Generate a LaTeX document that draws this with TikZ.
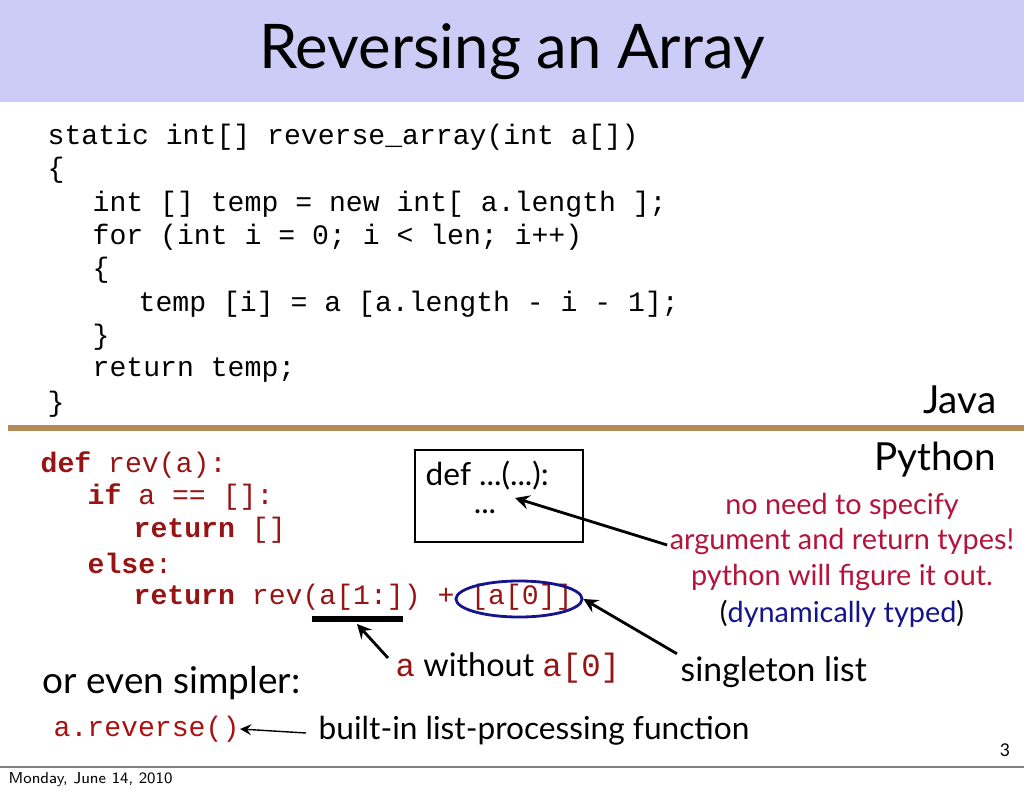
\documentclass[tikz,border=0pt]{standalone}
\usepackage{fontspec}
\setmainfont{Lato}
\setmonofont{Liberation Mono}
\usetikzlibrary{shapes.geometric}
\definecolor{band}{RGB}{204,204,246}
\definecolor{rule}{RGB}{180,140,90}
\definecolor{code}{RGB}{150,20,20}
\definecolor{note}{RGB}{180,20,60}
\definecolor{navy}{RGB}{20,20,140}
\begin{document}
\begin{tikzpicture}[x=0.01cm,y=-0.01cm]
\tikzstyle{java}=[anchor=west,inner sep=0pt,font=\ttfamily\fontsize{8}{10}\selectfont]
\tikzstyle{py}=[anchor=west,inner sep=0pt,text=code,font=\ttfamily\fontsize{8}{10}\selectfont]
\tikzstyle{label}=[inner sep=0pt,font=\fontsize{11}{13}\selectfont]
\tikzstyle{remark}=[inner sep=0pt,text=note,font=\fontsize{8.2}{10}\selectfont]
\tikzstyle{pointer}=[->,>=stealth,thick]
\useasboundingbox (0,0) rectangle (1024,794);
\fill[band] (0,0) rectangle (1024,102);
\node [inner sep=0pt,font=\fontsize{17.5}{20}\selectfont] (title) at (512,52) {Reversing an Array};
% Java version
\node [java] (j1) at (47,137) {static int[] reverse\_array(int a[])};
\node [java] (j2) at (47,170) {\{};
\node [java] (j3) at (92,204) {int [] temp = new int[ a.length ];};
\node [java] (j4) at (92,237) {for (int i = 0; i < len; i++)};
\node [java] (j5) at (92,270) {\{};
\node [java] (j6) at (138,304) {temp [i] = a [a.length - i - 1];};
\node [java] (j7) at (92,337) {\}};
\node [java] (j8) at (92,370) {return temp;};
\node [java] (j9) at (47,404) {\}};
\node [label,anchor=east] (java) at (997,400) {Java};
\draw[rule,line width=1.5pt] (8,428) -- (1024,428);
% Python version
\node [py] (p1) at (40,465) {\textbf{def} rev(a):};
\node [py] (p2) at (87,497) {\textbf{if} a == []:};
\node [py] (p3) at (133,530) {\textbf{return} []};
\node [py] (p4) at (87,563) {\textbf{else}:};
\node [py] (p5) at (133,597) {\textbf{return} rev(a[1:]) + [a[0]]};
\node [label,anchor=east] (python) at (997,460) {Python};
\draw (415,450) rectangle (583,542);
\node [inner sep=0pt,anchor=west,font=\fontsize{9}{11}\selectfont] (sig) at (425,476) {def ...(...):};
\node [inner sep=0pt,font=\fontsize{9}{11}\selectfont] (body) at (485,512) {...};
\coordinate (sigend) at (515,498);
\node [remark] (r1) at (842,506) {no need to specify};
\node [remark] (r2) at (842,542) {argument and return types!};
\node [remark] (r3) at (842,578) {python will figure it out.};
\node [remark,text=black] (r4) at (842,614) {(\textcolor{navy}{dynamically typed})};
\draw[pointer] (r2.west) ++(-2,3) -- (sigend);
\coordinate (ul1) at (312,619);
\coordinate (ul2) at (403,619);
\draw[line width=1.5pt] (ul1) -- (ul2);
\node [draw=navy,thick,ellipse,minimum width=1.26cm,minimum height=0.36cm,inner sep=0pt] (single) at (519,599) {};
\node [label,anchor=west,font=\fontsize{9.2}{12}\selectfont] (without) at (395,668) {\textcolor{code}{\ttfamily a} without \textcolor{code}{\ttfamily a[0]}};
\node [label,anchor=west,font=\fontsize{9.6}{12}\selectfont] (singleton) at (680,672) {singleton list};
\draw[pointer] (388,658) -- (357,624);
\draw[pointer] (singleton.north west) ++(-3,-2) -- (single.east);
% simpler
\node [label,anchor=west,font=\fontsize{10.5}{12}\selectfont] (simpler) at (42,683) {or even simpler:};
\node [py,text=code!80!red] (rev) at (53,729) {a.reverse()};
\node [label,anchor=west,font=\fontsize{9}{11}\selectfont] (builtin) at (318,731) {built-in list-processing function};
\draw[->,>=stealth] (builtin.west) ++(-12,2) -- (rev.east);
\node [inner sep=0pt,font=\fontsize{5}{6}\selectfont] (page) at (1005,750) {3};
\draw[gray] (0,767) -- (1024,767);
\node [anchor=west,inner sep=0pt,font=\sffamily\fontsize{4.5}{6}\selectfont] (date) at (8,780) {Monday, June 14, 2010};
\end{tikzpicture}
\end{document}
